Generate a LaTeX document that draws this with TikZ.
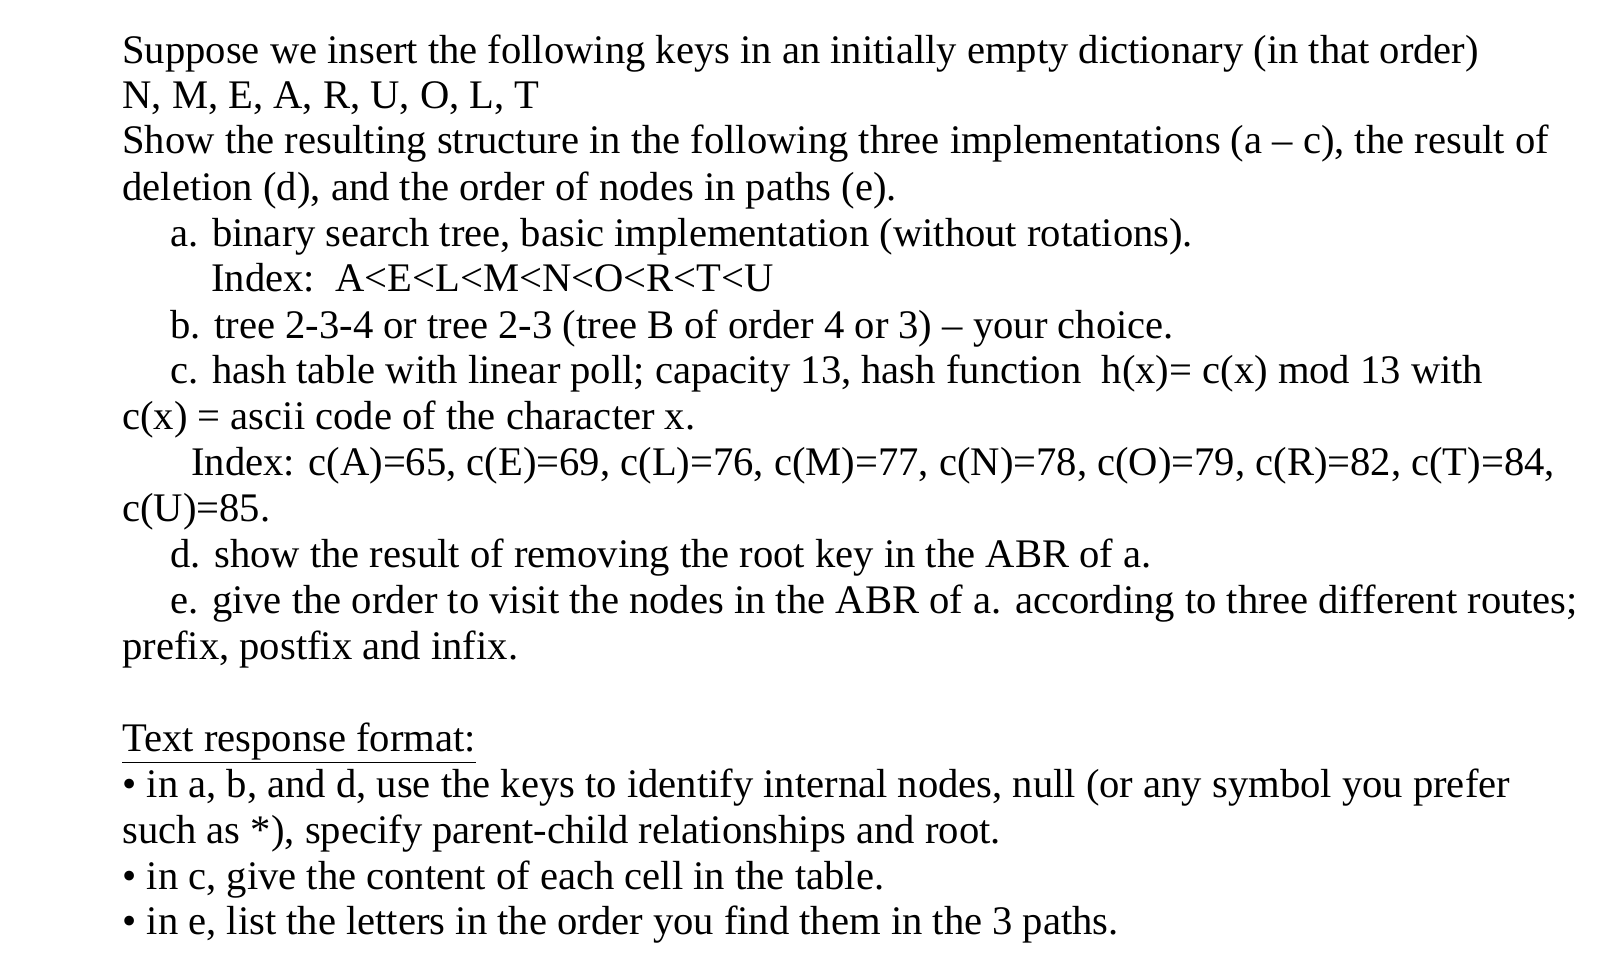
\documentclass[tikz,border=0pt]{standalone}
\usepackage{fontspec}
\setmainfont{Liberation Serif}
\begin{document}
\begin{tikzpicture}[x=0.5pt,y=-0.5pt,
  ln/.style={anchor=base west,inner sep=0pt,font=\fontsize{20.3}{24}\selectfont}]
\useasboundingbox (0,0) rectangle (1598,968);
\node[ln] (l1) at (122,64) {Suppose we insert the following keys in an initially empty dictionary (in that order)};
\node[ln] (l2) at (122,109) {N, M, E, A, R, U, O, L, T};
\node[ln] (l3) at (122,154) {Show the resulting structure in the following three implementations (a -- c), the result of};
\node[ln] (l4) at (122,200) {deletion (d), and the order of nodes in paths (e).};
\node[ln] (l5) at (170,246) {a. binary search tree, basic implementation (without rotations).};
\node[ln] (l6) at (211,291) {Index:\ \ A<E<L<M<N<O<R<T<U};
\node[ln] (l7) at (170,338) {b. tree 2-3-4 or tree 2-3 (tree B of order 4 or 3) -- your choice.};
\node[ln] (l8) at (170,383) {c. hash table with linear poll; capacity 13, hash function\ \ h(x)= c(x) mod 13 with};
\node[ln] (l9) at (122,429) {c(x) = ascii code of the character x.};
\node[ln] (l10) at (191,475) {Index: c(A)=65, c(E)=69, c(L)=76, c(M)=77, c(N)=78, c(O)=79, c(R)=82, c(T)=84,};
\node[ln] (l11) at (122,521) {c(U)=85.};
\node[ln] (l12) at (170,567) {d. show the result of removing the root key in the ABR of a.};
\node[ln] (l13) at (170,613) {e. give the order to visit the nodes in the ABR of a. according to three different routes;};
\node[ln] (l14) at (122,659) {prefix, postfix and infix.};
\node[ln] (l15) at (122,751) {\underline{Text response format:}};
\node[ln] (l16) at (122,797) {• in a, b, and d, use the keys to identify internal nodes, null (or any symbol you prefer};
\node[ln] (l17) at (122,843) {such as *), specify parent-child relationships and root.};
\node[ln] (l18) at (122,889) {• in c, give the content of each cell in the table.};
\node[ln] (l19) at (122,934) {• in e, list the letters in the order you find them in the 3 paths.};
\end{tikzpicture}
\end{document}
